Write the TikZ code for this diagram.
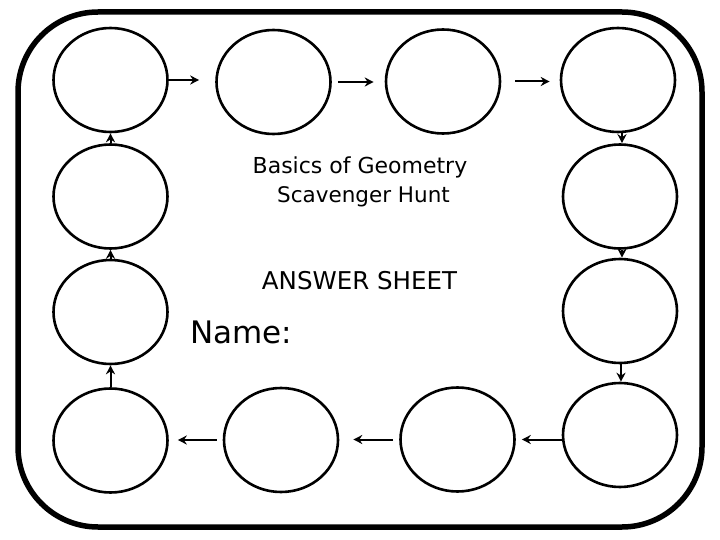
\documentclass[tikz,border=0pt]{standalone}
\usepackage{fontspec}
\setmainfont{DejaVu Sans}
\usetikzlibrary{shapes.geometric,arrows.meta}
\tikzset{
  spot/.style={draw, ellipse, line width=2.6pt, inner sep=0pt, minimum width=114pt, minimum height=104pt},
  arr/.style={line width=2pt, -{Stealth[length=9pt,width=9pt]}},
  frame/.style={line width=5.5pt, rounded corners=80pt},
  txt/.style={inner sep=0pt, anchor=base}
}
\begin{document}
\begin{tikzpicture}[x=1pt,y=-1pt]
\useasboundingbox (0,0) rectangle (720,540);
\draw[frame] (18,12) rectangle (702,527);
% top row
\node[spot] (A1) at (110.5,80) {};
\node[spot] (A2) at (273.5,82) {};
\node[spot] (A3) at (443,81.5) {};
\node[spot] (A4) at (618,80) {};
% sides
\node[spot] (B1) at (110.5,196.5) {};
\node[spot] (C1) at (110.5,312) {};
\node[spot] (B4) at (620,196.5) {};
\node[spot] (C4) at (620,311) {};
% bottom row
\node[spot] (D1) at (110.5,440.5) {};
\node[spot] (D2) at (281,440) {};
\node[spot] (D3) at (457.5,439.5) {};
\node[spot] (D4) at (620,435) {};
% arrows top
\draw[arr, shorten >=16pt] (A1.east) -- (A1.east -| A2.west);
\draw[arr, shorten <=6pt, shorten >=11pt] (A2.east) -- (A2.east -| A3.west);
\draw[arr, shorten <=14pt, shorten >=10pt] (A3.east) -- (A3.east -| A4.west);
% right column
\draw[arr] ([xshift=4pt]A4.south) -- ([xshift=4pt]A4.south |- B4.north);
\draw[arr] ([xshift=2pt]B4.south) -- ([xshift=2pt]B4.south |- C4.north);
\draw[arr] ([xshift=1pt]C4.south) -- ([xshift=1pt]C4.south |- D4.north);
% bottom
\draw[arr, shorten >=6pt] (D4.west |- D3.east) -- (D3.east);
\draw[arr, shorten <=6pt, shorten >=14pt] (D3.west) -- (D3.west -| D2.east);
\draw[arr, shorten <=6pt, shorten >=9pt] (D2.west) -- (D2.west -| D1.east);
% left column
\draw[arr] (D1.north) -- (D1.north |- C1.south);
\draw[arr] (C1.north) -- (C1.north |- B1.south);
\draw[arr] (B1.north) -- (B1.north |- A1.south);
% texts
\node[txt, font=\fontsize{22}{26}\selectfont] (t1) at (360,174) {Basics of Geometry};
\node[txt, font=\fontsize{21.5}{26}\selectfont] (t2) at (363.5,203) {Scavenger Hunt};
\node[txt, font=\fontsize{24.5}{28}\selectfont] (t3) at (359.5,289) {ANSWER SHEET};
\node[txt, anchor=base west, font=\fontsize{31}{36}\selectfont] (t4) at (190,343) {Name:};
\end{tikzpicture}
\end{document}
